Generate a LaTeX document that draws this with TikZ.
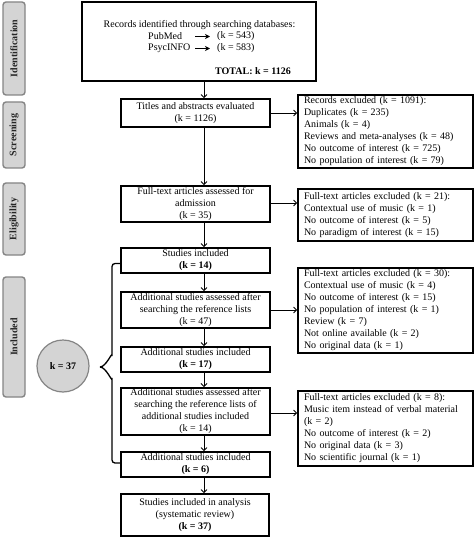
\documentclass[tikz,border=0pt]{standalone}
\usepackage{fontspec}
\setmainfont{Liberation Serif}
\usetikzlibrary{arrows.meta}
\definecolor{labfill}{HTML}{D4D4D4}
\definecolor{labdraw}{HTML}{858585}
\begin{document}
\begin{tikzpicture}[x=1pt,y=-1pt,
  txt/.style={font=\fontsize{10}{12}\selectfont},
  mainbox/.style={draw, line width=1.6pt, minimum width=149pt, align=center, inner sep=1pt, txt},
  exbox/.style={draw, line width=1.6pt, minimum width=175pt, text width=163pt, inner xsep=6pt, inner ysep=1pt, align=left, txt},
  phase/.style={draw=labdraw, fill=labfill, line width=1.4pt, rounded corners=3pt, minimum width=22pt},
  phasetxt/.style={rotate=90, font=\fontsize{10}{12}\selectfont\bfseries, text=black!85},
  arr/.style={line width=0.9pt, -{Straight Barb[length=3pt,width=6pt]}},
  textarr/.style={line width=1pt, -{Stealth[length=5pt,width=5pt,inset=1.5pt]}},
  bracestyle/.style={line width=1.3pt, rounded corners=3pt}
]
\useasboundingbox (0,0) rectangle (474,537);

% phase labels
\node[phase, minimum height=93pt] (pid) at (14,48.5) {};
\node[phasetxt] at (pid.center) {Identification};
\node[phase, minimum height=66pt] (psc) at (14,135) {};
\node[phasetxt] at (psc.center) {Screening};
\node[phase, minimum height=72pt] (pel) at (14,219) {};
\node[phasetxt] at (pel.center) {Eligibility};
\node[phase, minimum height=120pt] (pin) at (14,337) {};
\node[phasetxt] at (pin.center) {Included};

% identification box
\node[draw, line width=1.6pt, minimum width=234pt, minimum height=79pt] (b1) at (199,41.5) {};
\node[txt, inner sep=0pt] (t1) at (199.5,25) {Records identified through searching databases:};
\node[txt, anchor=west, inner sep=0pt] (pm) at (148,36) {PubMed};
\node[txt, anchor=west, inner sep=0pt] (pmk) at (217,36) {(k = 543)};
\node[txt, anchor=west, inner sep=0pt] (pi) at (148,48) {PsycINFO};
\node[txt, anchor=west, inner sep=0pt] (pik) at (217,48) {(k = 583)};
\coordinate (pma1) at (195,36.5);
\coordinate (pma2) at (210,36.5);
\coordinate (pia1) at (195,48.5);
\coordinate (pia2) at (210,48.5);
\draw[textarr] (pma1) -- (pma2);
\draw[textarr] (pia1) -- (pia2);
\node[txt, inner sep=0pt, font=\fontsize{10}{12}\selectfont\bfseries] (tot) at (253,71) {TOTAL: k = 1126};

% main column
\node[mainbox, minimum height=28pt] (b2) at (195.5,113) {Titles and abstracts evaluated\\(k = 1126)};
\node[mainbox, minimum height=36pt] (b4) at (195.5,204) {Full-text articles assessed for\\admission\\(k = 35)};
\node[mainbox, minimum height=25pt] (b6) at (195.5,260.5) {Studies included\\\textbf{(k = 14)}};
\node[mainbox, minimum height=36pt] (b7) at (195.5,310) {Additional studies assessed after\\searching the reference lists\\(k = 47)};
\node[mainbox, minimum height=25pt] (b9) at (195.5,359.5) {Additional studies included\\\textbf{(k = 17)}};
\node[mainbox, minimum height=47pt] (b10) at (195.5,411.5) {Additional studies assessed after\\searching the reference lists of\\additional studies included\\(k = 14)};
\node[mainbox, minimum height=25pt] (b12) at (195.5,464.5) {Additional studies included\\\textbf{(k = 6)}};
\node[mainbox, minimum height=42pt, minimum width=148pt] (b13) at (195,515) {Studies included in analysis\\(systematic review)\\\textbf{(k = 37)}};

% exclusion boxes
\node[exbox, minimum height=73pt] (e1) at (385.5,131.5) {Records excluded (k = 1091):\\Duplicates (k = 235)\\Animals (k = 4)\\Reviews and meta-analyses (k = 48)\\No outcome of interest (k = 725)\\No population of interest (k = 79)};
\node[exbox, minimum height=52pt] (e2) at (385.5,215) {Full-text articles excluded (k = 21):\\Contextual use of music (k = 1)\\No outcome of interest (k = 5)\\No paradigm of interest (k = 15)};
\node[exbox, minimum height=85pt] (e3) at (385.5,310.5) {Full-text articles excluded (k = 30):\\Contextual use of music (k = 4)\\No outcome of interest (k = 15)\\No population of interest (k = 1)\\Review (k = 7)\\Not online available (k = 2)\\No original data (k = 1)};
\node[exbox, minimum height=75pt] (e4) at (385.5,428.5) {Full-text articles excluded (k = 8):\\Music item instead of verbal material\\(k = 2)\\No outcome of interest (k = 2)\\No original data (k = 3)\\No scientific journal (k = 1)};

% circle
\node[circle, draw=labdraw, fill=labfill, line width=1.2pt, minimum size=52pt, inner sep=0pt, font=\fontsize{10}{12}\selectfont\bfseries] (c37) at (63,366) {k = 37};

% main arrows
\coordinate (axis) at (204,0);
\draw[arr] (b1.south -| axis) -- (b2.north -| axis);
\draw[arr] (b2.south -| axis) -- (b4.north -| axis);
\draw[arr] (b4.south -| axis) -- (b6.north -| axis);
\draw[arr] (b6.south -| axis) -- (b7.north -| axis);
\draw[arr] (b7.south -| axis) -- (b9.north -| axis);
\draw[arr] (b9.south -| axis) -- (b10.north -| axis);
\draw[arr] (b10.south -| axis) -- (b12.north -| axis);
\draw[arr] (b12.south -| axis) -- (b13.north -| axis);

% exclusion arrows
\draw[arr] (b2.east) -- (b2.east -| e1.west);
\draw[arr] ([yshift=1pt]b4.east) -- ([yshift=1pt]b4.east -| e2.west);
\draw[arr] (b7.east) -- (b7.east -| e3.west);
\draw[arr] ([yshift=-1.5pt]b10.east) -- ([yshift=-1.5pt]b10.east -| e4.west);

% brace
\coordinate (tip) at (100,367);
\draw[bracestyle] ([yshift=-3pt]b6.west) -| (112,358) to[out=90,in=0] (tip);
\draw[bracestyle] (tip) to[out=0,in=-90] (112,376) |- ([yshift=1.5pt]b12.west);
\end{tikzpicture}
\end{document}
